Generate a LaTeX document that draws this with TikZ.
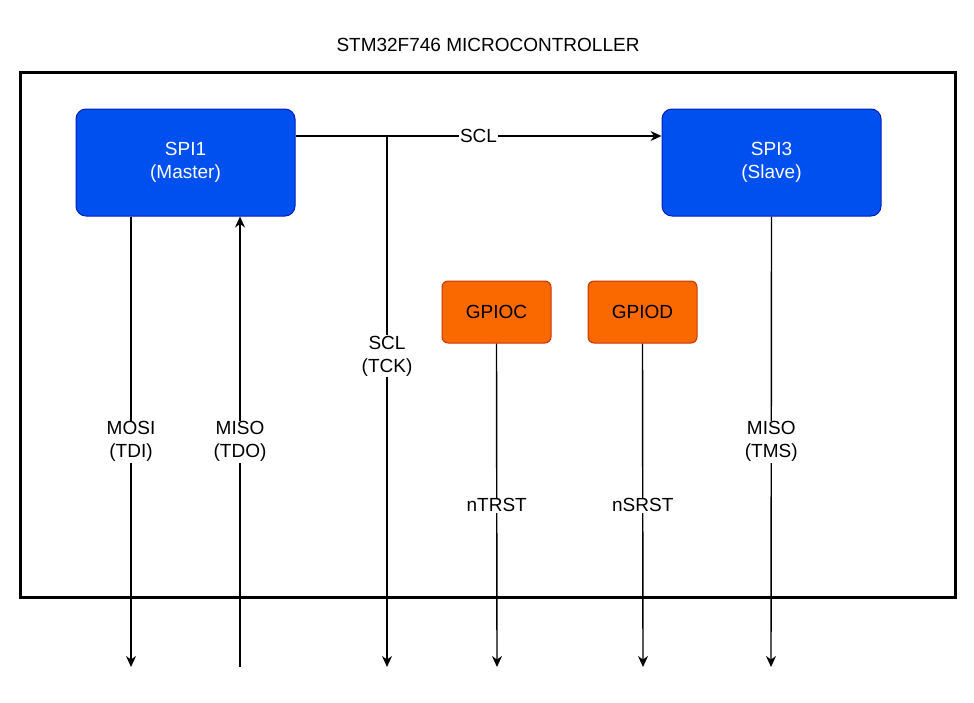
\documentclass[tikz,border=0pt]{standalone}
\usepackage{fontspec}
\setmainfont{Liberation Sans}
\usetikzlibrary{arrows.meta}
\definecolor{bl}{HTML}{0050EF}
\definecolor{bld}{HTML}{001DBC}
\definecolor{org}{HTML}{FA6800}
\definecolor{orgd}{HTML}{C73500}
\begin{document}
\begin{tikzpicture}[x=1pt,y=-1pt,
 lbl/.style={font=\fontsize{19}{23}\selectfont,align=center,fill=white,inner sep=1pt},
 blue box/.style={draw=bld,fill=bl,rounded corners=10pt,line width=1pt,text=white,font=\fontsize{19}{23}\selectfont,align=center,minimum width=219pt,minimum height=107pt},
 org box/.style={draw=orgd,fill=org,rounded corners=6pt,line width=1pt,text=black,font=\fontsize{19}{23}\selectfont,minimum width=109pt,minimum height=62pt},
 wire/.style={line width=1.4pt,-{Stealth[length=11pt,width=10pt]}}]
\useasboundingbox (0,0) rectangle (974,702);
\node[font=\fontsize{19}{23}\selectfont] (title) at (488,45) {STM32F746 MICROCONTROLLER};
\draw[line width=3pt] (20,72) rectangle (955,597);
\node[blue box] (spi1) at (185.5,162.5) {SPI1\\(Master)};
\node[blue box] (spi3) at (771.5,162.5) {SPI3\\(Slave)};
\node[org box] (gc) at (496.5,312) {GPIOC};
\node[org box] (gd) at (642.5,312) {GPIOD};
\coordinate (s1) at (131,667);
\coordinate (s2) at (240,667);
\coordinate (s3) at (387,667);
\coordinate (s4) at (497,667);
\coordinate (s5) at (643,667);
\coordinate (s6) at (771,667);
\coordinate (br) at (387,136);
\draw[wire] (spi1.east |- br) -- (spi3.west |- br) node[lbl,pos=0.5] {SCL};
\draw[wire] (br) -- (s3) node[lbl,pos=0.415] {SCL\\(TCK)};
\draw[wire] (spi1.south -| s1) -- (s1) node[lbl,pos=0.5] {MOSI\\(TDI)};
\draw[wire] (s2) -- (spi1.south -| s2) node[lbl,pos=0.5] {MISO\\(TDO)};
\draw[wire] (gc.south) -- (s4) node[lbl,pos=0.5] {nTRST};
\draw[wire] (gd.south) -- (s5) node[lbl,pos=0.5] {nSRST};
\draw[wire] (spi3.south) -- (s6) node[lbl,pos=0.5] {MISO\\(TMS)};
\end{tikzpicture}
\end{document}
